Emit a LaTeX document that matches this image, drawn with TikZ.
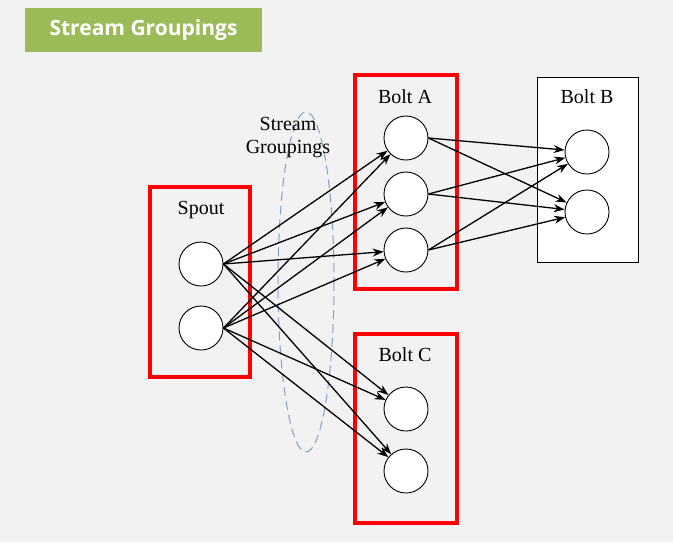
\documentclass[tikz,border=0pt]{standalone}
\usepackage{fontspec}
\setmainfont{Liberation Serif}
\newfontfamily\sans{Open Sans}
\usetikzlibrary{arrows.meta}
\definecolor{bg}{HTML}{F2F2F2}
\definecolor{ttl}{HTML}{9BBB59}
\definecolor{dashblue}{HTML}{7F9FCF}
\begin{document}
\begin{tikzpicture}[x=1pt,y=-1pt,
  redbox/.style={draw=red,line width=3.5pt},
  blk/.style={draw=black,fill=white,line width=0.8pt},
  cir/.style={circle,draw=black,fill=white,minimum size=44pt,inner sep=0pt,line width=0.9pt},
  lbl/.style={font=\fontsize{20}{23}\selectfont},
  arr/.style={-{Stealth[length=11pt,width=8pt]},line width=1.3pt}]
\fill[bg] (0,0) rectangle (673,542);
\useasboundingbox (0,0) rectangle (673,542);
\node[fill=ttl,text=white,font=\sans\bfseries\fontsize{21}{24}\selectfont,minimum width=237pt,minimum height=44pt,inner sep=0pt] (title) at (143.5,30) {Stream Groupings};
\draw[redbox] (150,187) rectangle (250,377);
\draw[redbox] (355,75) rectangle (457,289);
\draw[blk] (537,77) rectangle (638,262);
\draw[redbox] (355,334) rectangle (457,523);
\node[lbl] (ls) at (201,210) {Spout};
\node[lbl] (la) at (405,97) {Bolt A};
\node[lbl] (lb) at (587,97) {Bolt B};
\node[lbl] (lc) at (405,355) {Bolt C};
\node[cir] (s1) at (201,264) {};
\node[cir] (s2) at (201,328) {};
\node[cir] (a1) at (406,138) {};
\node[cir] (a2) at (406,194) {};
\node[cir] (a3) at (406,250) {};
\node[cir] (b1) at (587,152) {};
\node[cir] (b2) at (587,212) {};
\node[cir] (c1) at (406,409) {};
\node[cir] (c2) at (406,471) {};
\draw[dashblue,dash pattern=on 9pt off 5pt,line width=1pt] (306,282) ellipse [x radius=28, y radius=170];
\node[lbl,align=center] (sg) at (288,138) {Stream\\Groupings};
\foreach \s in {s1,s2}{
  \foreach \t in {a1,a2,a3,c1,c2}{
    \draw[arr] (\s.east) -- (\t);
  }
}
\foreach \s in {a1,a2,a3}{
  \foreach \t in {b1,b2}{
    \draw[arr] (\s.east) -- (\t);
  }
}
\end{tikzpicture}
\end{document}
